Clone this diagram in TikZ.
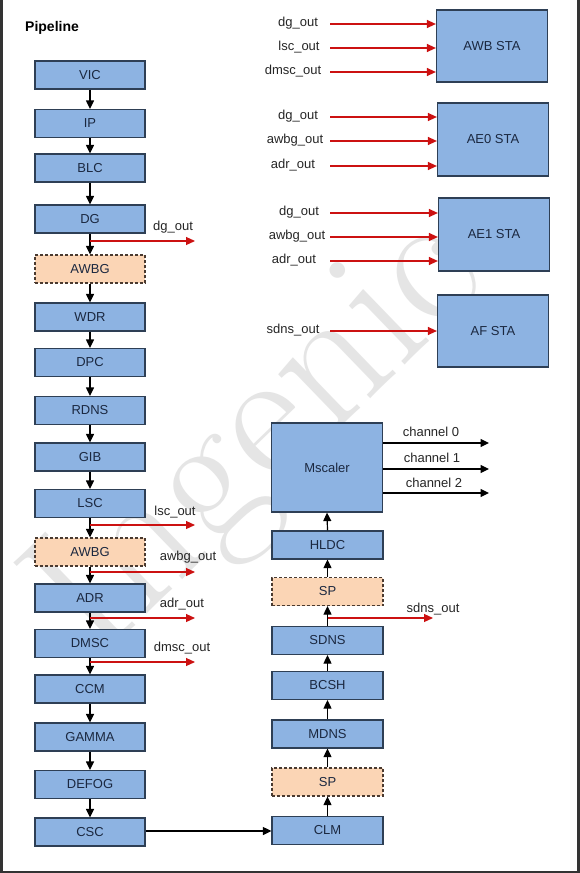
\documentclass[tikz,border=0pt]{standalone}
\usepackage{fontspec}
\setsansfont{Liberation Sans}
\renewcommand{\familydefault}{\sfdefault}
\usetikzlibrary{arrows.meta}
\definecolor{boxblue}{HTML}{8DB3E2}
\definecolor{boxedge}{HTML}{2E3F55}
\definecolor{peach}{HTML}{FBD5B5}
\definecolor{peachedge}{HTML}{4A3A30}
\definecolor{txtnavy}{HTML}{1B2840}
\definecolor{redline}{HTML}{CC1111}
\definecolor{framegray}{HTML}{333333}
\tikzset{
  blk/.style={draw=boxedge, line width=1.2pt, fill=boxblue, minimum width=110pt, minimum height=28pt, inner sep=0pt, text=txtnavy, font=\sffamily\fontsize{13}{13}\selectfont},
  dblk/.style={blk, fill=peach, draw=peachedge, dashed, dash pattern=on 3pt off 2pt},
  stablk/.style={blk, minimum width=111pt, minimum height=72pt},
  lbl/.style={inner sep=0pt, font=\sffamily\fontsize{13}{13}\selectfont, text=black!85, text height=9.5pt, text depth=3pt},
  blackarr/.style={draw=black, line width=1.2pt, -{Triangle[length=8.5pt,width=8pt]}},
  redarr/.style={draw=redline, line width=1.2pt, -{Triangle[length=9pt,width=8pt]}},
}
\begin{document}
\begin{tikzpicture}[x=1pt,y=-1pt]
\useasboundingbox (0,0) rectangle (580,873);
\fill[framegray] (0,0) rectangle (580,873);
\fill[white] (3,0) rectangle (577,871);
% watermark
\begin{scope}
\clip (3,0) rectangle (577,871);
\node[rotate=44, text=black!10, font=\rmfamily\fontsize{190}{190}\selectfont, inner sep=0pt] (wm) at (262,440) {Ingenic};
\end{scope}

\node[font=\sffamily\bfseries\fontsize{14}{14}\selectfont, anchor=west, inner sep=0pt] (title) at (25,28) {Pipeline};

% left column
\node[blk]  (vic)   at (90,75)    {VIC};
\node[blk]  (ip)    at (90,123.5) {IP};
\node[blk]  (blc)   at (90,168)   {BLC};
\node[blk]  (dg)    at (90,219)   {DG};
\node[dblk] (awbg1) at (90,269)   {AWBG};
\node[blk]  (wdr)   at (90,317)   {WDR};
\node[blk]  (dpc)   at (90,362.5) {DPC};
\node[blk]  (rdns)  at (90,410.5) {RDNS};
\node[blk]  (gib)   at (90,457)   {GIB};
\node[blk]  (lsc)   at (90,503.5) {LSC};
\node[dblk] (awbg2) at (90,552)   {AWBG};
\node[blk]  (adr)   at (90,598)   {ADR};
\node[blk]  (dmsc)  at (90,643.5) {DMSC};
\node[blk]  (ccm)   at (90,689)   {CCM};
\node[blk]  (gamma) at (90,737)   {GAMMA};
\node[blk]  (defog) at (90,784.5) {DEFOG};
\node[blk]  (csc)   at (90,832)   {CSC};

\foreach \a/\b in {vic/ip,ip/blc,blc/dg,dg/awbg1,awbg1/wdr,wdr/dpc,dpc/rdns,rdns/gib,gib/lsc,lsc/awbg2,awbg2/adr,adr/dmsc,dmsc/ccm,ccm/gamma,gamma/defog,defog/csc}
  \draw[blackarr] (\a.south) -- (\b.north);

% left red outputs
\foreach \n/\y/\lx/\ly/\t in {dgo/241/173/227/dg\_out, lsco/525/175/512/lsc\_out, awbgo/572/188/557/awbg\_out, adro/618/182/604/adr\_out, dmsco/662/182/648/dmsc\_out}{
  \coordinate (\n s) at (90,\y);
  \coordinate (\n e) at (195,\y);
  \draw[redarr] (\n s) -- (\n e);
  \node[lbl] (\n l) at (\lx,\ly) {\t};
}

% right column
\node[blk, minimum width=111pt, minimum height=89pt] (msc) at (327,467.5) {Mscaler};
\node[blk, minimum width=111pt]  (hldc) at (327.5,545)   {HLDC};
\node[dblk, minimum width=111pt] (sp1)  at (327.5,591.5) {SP};
\node[blk, minimum width=111pt]  (sdns) at (327.5,640.5) {SDNS};
\node[blk, minimum width=111pt]  (bcsh) at (327.5,685.5) {BCSH};
\node[blk, minimum width=111pt]  (mdns) at (327.5,734)   {MDNS};
\node[dblk, minimum width=111pt] (sp2)  at (327.5,782)   {SP};
\node[blk, minimum width=111pt]  (clm)  at (327.5,830.5) {CLM};

\foreach \a/\b in {clm/sp2,sp2/mdns,mdns/bcsh,bcsh/sdns,sdns/sp1,sp1/hldc,hldc/msc}
  \draw[blackarr] (\a.north) -- (\b.south);

\draw[blackarr] (csc.east |- 0,831) -- (clm.west |- 0,831);

% sdns_out
\coordinate (sdnsos) at (327.5,618);
\coordinate (sdnsoe) at (433,618);
\draw[redarr] (sdnsos) -- (sdnsoe);
\node[lbl] (sdnsol) at (433,609) {sdns\_out};

% channels
\foreach \n/\y/\lx/\ly/\t in {c0/443/431/433/channel 0, c1/469/432/459/channel 1, c2/493/434/484/channel 2}{
  \coordinate (\n e) at (489,\y);
  \draw[blackarr] (msc.east |- 0,\y) -- (\n e);
  \node[lbl] (\n l) at (\lx,\ly) {\t};
}

% STA blocks
\node[stablk] (awb) at (492,46)    {AWB STA};
\node[stablk, minimum height=73pt] (ae0) at (493,139.5) {AE0 STA};
\node[stablk, minimum height=73pt] (ae1) at (494,234.5) {AE1 STA};
\node[stablk] (af)  at (493,331)   {AF STA};

\foreach \n/\b/\y/\lx/\ly/\t in {
  a1/awb/24/298/23/dg\_out, a2/awb/48/299/47/lsc\_out, a3/awb/72/293/71/dmsc\_out,
  b1/ae0/117/298/116/dg\_out, b2/ae0/141/295/140/awbg\_out, b3/ae0/166/293/165/adr\_out,
  d1/ae1/213/299/212/dg\_out, d2/ae1/237/297/236/awbg\_out, d3/ae1/261/294/260/adr\_out,
  f1/af/331/293/330/sdns\_out}{
  \coordinate (\n s) at (330,\y);
  \draw[redarr] (\n s) -- (\b.west |- \n s);
  \node[lbl] (\n l) at (\lx,\ly) {\t};
}
\end{tikzpicture}
\end{document}
